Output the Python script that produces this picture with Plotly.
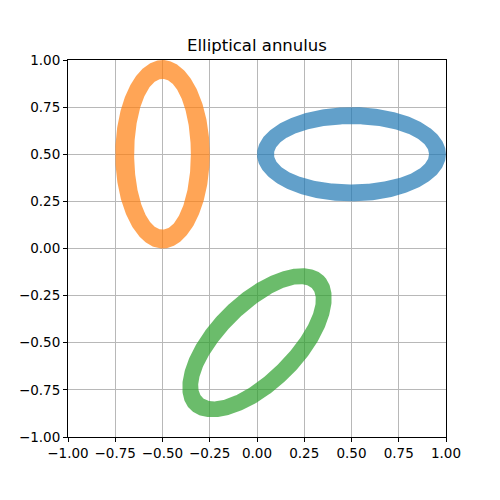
import numpy as np
import plotly.graph_objects as go

# Annulus parameters
names = ["blue", "orange", "green"]
centers_x = [0.5, -0.5, 0.0]
centers_y = [0.5, 0.5, -0.5]
outer_a = [0.5, 0.25, 0.5]
outer_b = [0.25, 0.5, 0.25]
widths = [0.09, 0.1, 0.09]
angles_deg = [0, 0, 45]
colors = ["rgba(31,119,180,0.7)", "rgba(255,127,14,0.7)", "rgba(44,160,44,0.7)"]

tick_vals = [-1.0, -0.75, -0.5, -0.25, 0.0, 0.25, 0.5, 0.75, 1.0]
title_text = "Elliptical annulus"


def ellipse(cx, cy, a, b, ang, reverse=False):
    t = np.linspace(0, 2 * np.pi, 361)
    if reverse:
        t = t[::-1]
    th = np.deg2rad(ang)
    x = a * np.cos(t)
    y = b * np.sin(t)
    xr = cx + x * np.cos(th) - y * np.sin(th)
    yr = cy + x * np.sin(th) + y * np.cos(th)
    return list(xr), list(yr)


fig = go.Figure()
for i in range(len(names)):
    xo, yo = ellipse(centers_x[i], centers_y[i], outer_a[i], outer_b[i], angles_deg[i])
    xi, yi = ellipse(centers_x[i], centers_y[i], outer_a[i] - widths[i],
                     outer_b[i] - widths[i], angles_deg[i], reverse=True)
    fig.add_trace(go.Scatter(
        x=xo + [None] + xi, y=yo + [None] + yi,
        mode="lines", fill="toself", fillcolor=colors[i],
        line=dict(width=0, color=colors[i]), hoverinfo="skip",
        showlegend=False, name=names[i],
    ))

axis_common = dict(
    range=[-1, 1], tickvals=tick_vals, tickformat=".2f",
    showgrid=True, gridcolor="#b8b8b8", gridwidth=0.8,
    showline=True, linecolor="black", linewidth=1, mirror=True,
    ticks="outside", ticklen=4, tickcolor="black", tickwidth=1,
    zeroline=False,
    tickfont=dict(family="DejaVu Sans", size=13.5, color="black"),
)

fig.update_layout(
    width=500, height=500,
    margin=dict(l=60, r=62, t=52, b=70.5),
    paper_bgcolor="white", plot_bgcolor="white",
    xaxis=axis_common,
    yaxis=dict(**axis_common),
    title=dict(text=title_text, x=0.498, xanchor="center",
               y=1 - 37 / 500, yanchor="middle", yref="container",
               font=dict(family="DejaVu Sans", size=16.5, color="black")),
)

fig.write_html("out.html")
